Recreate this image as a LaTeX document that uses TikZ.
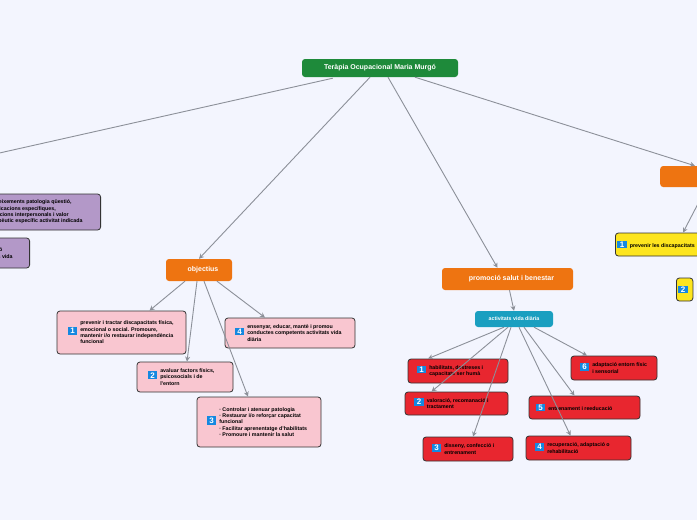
\documentclass[tikz,border=0pt]{standalone}
\usepackage{fontspec}
\setmainfont{Liberation Sans}
\usetikzlibrary{arrows.meta}
\definecolor{bg}{HTML}{F3F5FE}
\definecolor{gr}{HTML}{1E8A3A}
\definecolor{orng}{HTML}{EE7411}
\definecolor{pink}{HTML}{F9C6D0}
\definecolor{purp}{HTML}{B398C8}
\definecolor{teal}{HTML}{1A9FC0}
\definecolor{redb}{HTML}{E8262F}
\definecolor{yel}{HTML}{FDE51E}
\definecolor{badge}{HTML}{1588E0}
\definecolor{edge}{HTML}{8C9099}
\newcommand{\bdg}[1]{{\setlength\fboxsep{1.2pt}\colorbox{badge}{\textcolor{white}{\fontsize{8}{8}\selectfont\bfseries\,#1\,}}}}
\newcommand{\bxt}[3]{\bdg{#1}\hspace{3pt}\parbox[c]{#2}{\raggedright #3}}
\tikzset{
  x=1pt,y=-1pt,
  every node/.style={font=\fontsize{5.3}{6.3}\selectfont\bfseries, inner sep=2pt},
  box/.style={draw=black!80, line width=0.8pt, rounded corners=3pt, align=left},
  pinkb/.style={box, fill=pink},
  redb/.style={box, fill=redb},
  purpb/.style={box, fill=purp},
  yelb/.style={box, fill=yel},
  main/.style={rounded corners=3pt, text=white, font=\fontsize{7}{8}\selectfont\bfseries},
  con/.style={draw=edge, line width=0.9pt, -{Stealth[length=5pt,width=5pt]}},
}
\begin{document}
\begin{tikzpicture}
\useasboundingbox (0,0) rectangle (697,520);
\fill[bg] (0,0) rectangle (697,520);
\clip (0,0) rectangle (697,520);
% main nodes
\node[main, fill=gr, minimum width=156, minimum height=18] (root) at (380,68) {Teràpia Ocupacional Maria Murgó};
\node[main, fill=orng, minimum width=66, minimum height=22] (obj) at (199,270) {\hspace{8pt}objectius};
\node[main, fill=orng, minimum width=131, minimum height=22] (prom) at (507.5,279) {\hspace{8pt}promoció salut i benestar};
\node[main, fill=orng, minimum width=60, minimum height=21, anchor=west] (rt) at (660,176.5) {\hspace{20pt}};
\node[main, fill=teal, minimum width=78, minimum height=16, font=\fontsize{5.3}{6}\selectfont\bfseries] (avd) at (514,319) {activitats vida diària};
% left (cut) purple
\node[purpb, anchor=east, minimum height=36] (pu1) at (101,212) {\parbox{110pt}{Coneixements patologia qüestió,\\ Implicacions específiques,\\ Relacions interpersonals i valor\\ terapèutic específic activitat indicada}};
\node[purpb, anchor=east, minimum height=30] (pu2) at (30,253) {\parbox{50pt}{Avaluació\\ activitats vida}};
% pink
\node[pinkb, minimum width=129, minimum height=43] (p1) at (121.5,332.5) {\bxt{1}{95pt}{prevenir i tractar discapacitats física, emocional o social. Promoure, mantenir i/o restaurar independència funcional}};
\node[pinkb, minimum width=130, minimum height=30] (p4) at (290,333) {\bxt{4}{98pt}{ensenyar, educar, mantè i promou conductes competents activitats vida diària}};
\node[pinkb, minimum width=96, minimum height=30] (p2) at (185,377) {\bxt{2}{62pt}{avaluar factors físics, psicosocials i de l'entorn}};
\node[pinkb, minimum width=124, minimum height=50] (p3) at (259,422) {\bxt{3}{92pt}{· Controlar i atenuar patologia\\ · Restaurar i/o reforçar capacitat funcional\\ · Facilitar aprenentatge d'habilitats\\ · Promoure i mantenir la salut}};
% red
\node[redb, minimum width=100, minimum height=24] (r1) at (458,371) {\bxt{1}{70pt}{habilitats, destreses i capacitats ser humà}};
\node[redb, minimum width=103, minimum height=23] (r2) at (456.5,403.5) {\bxt{2}{72pt}{valoració, recomanació i tractament}};
\node[redb, minimum width=90, minimum height=24] (r3) at (468,449) {\bxt{3}{60pt}{disseny, confecció i entrenament}};
\node[redb, minimum width=86, minimum height=24] (r6) at (614,368) {\bxt{6}{56pt}{adaptació entorn físic i sensorial}};
\node[redb, minimum width=111, minimum height=23] (r5) at (584.5,407.5) {\bxt{5}{85pt}{entrenament i reeducació}};
\node[redb, minimum width=105, minimum height=24] (r4) at (578.5,448) {\bxt{4}{75pt}{recuperació, adaptació o rehabilitació}};
% yellow (cut)
\node[yelb, anchor=west, minimum height=23] (y1) at (615,244.5) {\bxt{1}{100pt}{prevenir les discapacitats}};
\node[yelb, anchor=west, minimum height=23] (y2) at (676,289.5) {\bxt{2}{60pt}{}};
% connectors
\coordinate (lft) at (-5,154);
\draw[con, -] (root.south west) ++(31,1) -- (lft);
\draw[con] ([xshift=-10pt]root.south) -- (obj.north);
\draw[con] ([xshift=8pt]root.south) -- ([xshift=-10pt]prom.north);
\draw[con] ([xshift=35pt]root.south) -- ([xshift=35pt]rt.north west);
\coordinate (rtb) at (702,196);
\draw[con] (rtb) -- ([xshift=68pt]y1.north west);
\draw[con] ([xshift=-14pt]obj.south) -- ([xshift=28pt]p1.north);
\draw[con] ([xshift=-2pt]obj.south) -- ([xshift=2pt]p2.north);
\draw[con] ([xshift=5pt]obj.south) -- ([xshift=-11pt]p3.north);
\draw[con] ([xshift=18pt]obj.south) -- ([xshift=-25pt]p4.north);
\draw[con] ([xshift=2pt]prom.south) -- (avd.north);
\draw[con] ([xshift=-10pt]avd.south) -- ([xshift=-30pt]r1.north);
\draw[con] ([xshift=-6pt]avd.south) -- ([xshift=-25pt]r2.north);
\draw[con] ([xshift=-3pt]avd.south) -- ([xshift=5pt]r3.north);
\draw[con] ([xshift=5pt]avd.south) -- ([xshift=-8pt]r4.north);
\draw[con] ([xshift=10pt]avd.south) -- ([xshift=-10pt]r5.north);
\draw[con] ([xshift=20pt]avd.south) -- ([xshift=-27pt]r6.north);
\end{tikzpicture}
\end{document}
